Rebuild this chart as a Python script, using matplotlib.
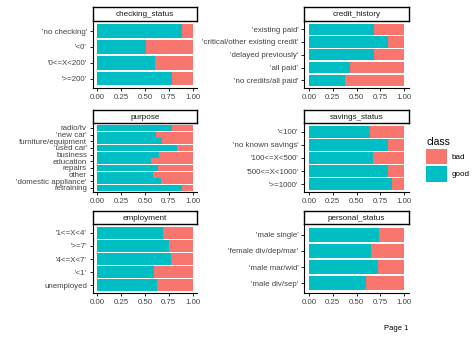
import numpy as np
import matplotlib
matplotlib.use("Agg")
import matplotlib.pyplot as plt
from matplotlib.patches import Patch

plt.rcParams["font.family"] = ["Liberation Sans", "DejaVu Sans"]

# proportion of "good" per level, levels listed top to bottom
checking_levels = ["'no checking'", "'<0'", "'0<=X<200'", "'>=200'"]
checking_good = [0.883, 0.507, 0.610, 0.778]

credit_levels = ["'existing paid'", "'critical/other existing credit'",
                 "'delayed previously'", "'all paid'", "'no credits/all paid'"]
credit_good = [0.681, 0.829, 0.682, 0.429, 0.375]

purpose_levels = ["radio/tv", "'new car'", "furniture/equipment", "'used car'",
                  "business", "education", "repairs", "other",
                  "'domestic appliance'", "retraining"]
purpose_good = [0.779, 0.620, 0.680, 0.835, 0.649, 0.560, 0.636, 0.583, 0.667, 0.889]

savings_levels = ["'<100'", "'no known savings'", "'100<=X<500'", "'500<=X<1000'", "'>=1000'"]
savings_good = [0.640, 0.825, 0.670, 0.825, 0.875]

employment_levels = ["'1<=X<4'", "'>=7'", "'4<=X<7'", "'<1'", "unemployed"]
employment_good = [0.693, 0.747, 0.776, 0.593, 0.629]

personal_levels = ["'male single'", "'female div/dep/mar'", "'male mar/wid'", "'male div/sep'"]
personal_good = [0.734, 0.648, 0.728, 0.600]

GOOD = "#00BFC4"
BAD = "#F8766D"
W, H = 474, 338

fig = plt.figure(figsize=(W / 100, H / 100), dpi=100)


def px_axes(x0, y0, x1, y1):
    # pixel box (top-left origin) -> figure axes
    return fig.add_axes([x0 / W, 1 - y1 / H, (x1 - x0) / W, (y1 - y0) / H])


def facet(x0, x1, y_strip, y0, y1, title, levels, good):
    ax = px_axes(x0, y0, x1, y1)
    n = len(levels)
    pos = np.arange(n)[::-1]
    good = np.array(good)
    ax.barh(pos, good, height=0.88, color=GOOD, linewidth=0)
    ax.barh(pos, 1 - good, left=good, height=0.88, color=BAD, linewidth=0)
    ax.set_xlim(-0.05, 1.05)
    ax.set_ylim(-0.6, n - 0.4)
    ax.set_yticks(pos)
    ax.set_yticklabels(levels)
    ax.set_xticks([0, 0.25, 0.5, 0.75, 1.0])
    ax.set_xticklabels(["0.00", "0.25", "0.50", "0.75", "1.00"])
    for s in ["top", "right"]:
        ax.spines[s].set_visible(False)
    for s in ["left", "bottom"]:
        ax.spines[s].set_linewidth(0.8)
        ax.spines[s].set_color("black")
    ax.tick_params(labelsize=5.7, labelcolor="#444444", length=2.5, width=0.6, pad=1.5)

    st = px_axes(x0, y_strip, x1, y0 - 1)
    st.set_xticks([])
    st.set_yticks([])
    for s in st.spines.values():
        s.set_linewidth(1.0)
        s.set_color("black")
    st.text(0.5, 0.45, title, ha="center", va="center", fontsize=5.9,
            color="#1A1A1A", transform=st.transAxes)
    return ax


LX0, LX1 = 92.5, 197.5
RX0, RX1 = 304, 409

facet(LX0, LX1, 7, 21.5, 88, "checking_status", checking_levels, checking_good)
facet(RX0, RX1, 7, 21.5, 88, "credit_history", credit_levels, credit_good)
facet(LX0, LX1, 110, 124, 192, "purpose", purpose_levels, purpose_good)
facet(RX0, RX1, 110, 124, 192, "savings_status", savings_levels, savings_good)
facet(LX0, LX1, 211, 225, 293, "employment", employment_levels, employment_good)
facet(RX0, RX1, 211, 225, 293, "personal_status", personal_levels, personal_good)

handles = [Patch(facecolor=BAD, edgecolor="none", label="bad"),
           Patch(facecolor=GOOD, edgecolor="none", label="good")]
fig.legend(handles=handles, title="class", loc="upper left",
           bbox_to_anchor=(419 / W, 1 - 130 / H), frameon=False,
           fontsize=5.8, title_fontsize=7.5, handlelength=2.6, handleheight=2.6,
           labelspacing=0.2, handletextpad=0.5, alignment="left")

fig.text(396 / W, 1 - 328 / H, "Page 1", ha="center", va="center", fontsize=5.5)

fig.savefig("out.png", dpi=100)
